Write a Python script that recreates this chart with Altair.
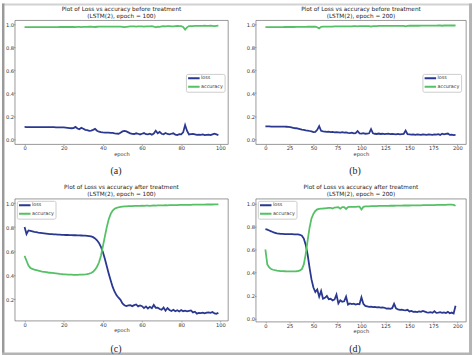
import altair as alt
import pandas as pd

BLUE = "#2a3890"
GREEN = "#55c065"

EPOCHS_100 = list(range(0, 100))
EPOCHS_200 = list(range(0, 200, 2))

A_LOSS = [0.105, 0.104, 0.104, 0.104, 0.104, 0.104, 0.104, 0.104, 0.104, 0.103,
          0.103, 0.103, 0.103, 0.103, 0.103, 0.103, 0.102, 0.102, 0.102, 0.102,
          0.101, 0.100, 0.098, 0.095, 0.094, 0.096, 0.106, 0.092, 0.085, 0.098,
          0.090, 0.080, 0.078, 0.072, 0.074, 0.080, 0.088, 0.072, 0.064, 0.060,
          0.057, 0.056, 0.055, 0.055, 0.054, 0.053, 0.050, 0.048, 0.046, 0.055,
          0.066, 0.070, 0.066, 0.058, 0.050, 0.045, 0.044, 0.050, 0.046, 0.040,
          0.046, 0.052, 0.042, 0.040, 0.046, 0.038, 0.048, 0.072, 0.050, 0.062,
          0.046, 0.042, 0.052, 0.044, 0.040, 0.046, 0.050, 0.038, 0.034, 0.042,
          0.040, 0.058, 0.122, 0.070, 0.040, 0.042, 0.044, 0.040, 0.036, 0.038,
          0.036, 0.040, 0.034, 0.036, 0.038, 0.034, 0.040, 0.046, 0.040, 0.034]
A_ACC = [0.975, 0.976, 0.976, 0.976, 0.976, 0.976, 0.976, 0.976, 0.976, 0.976,
         0.976, 0.976, 0.976, 0.976, 0.976, 0.976, 0.976, 0.976, 0.977, 0.977,
         0.977, 0.977, 0.977, 0.977, 0.977, 0.977, 0.975, 0.978, 0.978, 0.976,
         0.978, 0.978, 0.978, 0.979, 0.979, 0.978, 0.977, 0.979, 0.980, 0.980,
         0.980, 0.980, 0.980, 0.980, 0.980, 0.981, 0.981, 0.981, 0.981, 0.980,
         0.978, 0.976, 0.978, 0.980, 0.982, 0.982, 0.983, 0.981, 0.982, 0.983,
         0.982, 0.981, 0.983, 0.983, 0.982, 0.984, 0.981, 0.974, 0.980, 0.978,
         0.982, 0.984, 0.982, 0.984, 0.984, 0.983, 0.982, 0.985, 0.986, 0.984,
         0.985, 0.978, 0.955, 0.974, 0.985, 0.985, 0.985, 0.986, 0.987, 0.986,
         0.987, 0.986, 0.988, 0.987, 0.987, 0.988, 0.987, 0.985, 0.987, 0.988]

B_LOSS = [0.110, 0.110, 0.110, 0.109, 0.109, 0.109, 0.109, 0.108, 0.108, 0.108, 0.108, 0.107, 0.106,
          0.104, 0.100, 0.096, 0.094, 0.090, 0.086, 0.082, 0.080, 0.076, 0.074, 0.070, 0.066,
          0.060, 0.062, 0.080, 0.112, 0.072, 0.066, 0.064, 0.062, 0.064, 0.060, 0.062, 0.058,
          0.060, 0.058, 0.056, 0.060, 0.056, 0.058, 0.054, 0.052, 0.056, 0.050, 0.052, 0.070, 0.050,
          0.048, 0.052, 0.046, 0.048, 0.050, 0.086, 0.050, 0.046, 0.044, 0.048, 0.044, 0.046, 0.042,
          0.044, 0.046, 0.042, 0.044, 0.042, 0.040, 0.044, 0.040, 0.042, 0.044, 0.074, 0.042,
          0.040, 0.038, 0.040, 0.036, 0.040, 0.038, 0.036, 0.040, 0.038, 0.036, 0.040, 0.038, 0.036,
          0.040, 0.038, 0.042, 0.036, 0.046, 0.040, 0.044, 0.048, 0.036, 0.038, 0.034, 0.036]
B_ACC = [0.975, 0.975, 0.975, 0.976, 0.976, 0.976, 0.976, 0.976, 0.976, 0.976, 0.977, 0.977, 0.977,
         0.977, 0.977, 0.977, 0.978, 0.978, 0.978, 0.978, 0.978, 0.978, 0.979, 0.979, 0.979,
         0.979, 0.980, 0.975, 0.965, 0.978, 0.980, 0.980, 0.981, 0.981, 0.981, 0.981, 0.982,
         0.982, 0.982, 0.982, 0.982, 0.983, 0.983, 0.983, 0.983, 0.983, 0.984, 0.984, 0.982, 0.984,
         0.984, 0.984, 0.984, 0.985, 0.985, 0.980, 0.985, 0.985, 0.985, 0.986, 0.986, 0.986, 0.986,
         0.986, 0.986, 0.987, 0.987, 0.987, 0.987, 0.987, 0.987, 0.987, 0.987, 0.983, 0.987,
         0.988, 0.988, 0.988, 0.988, 0.988, 0.988, 0.989, 0.989, 0.989, 0.989, 0.989, 0.989, 0.989,
         0.989, 0.989, 0.990, 0.990, 0.988, 0.990, 0.990, 0.990, 0.990, 0.990, 0.991, 0.990]

C_LOSS = [0.800, 0.742, 0.772, 0.768, 0.764, 0.760, 0.757, 0.754, 0.752, 0.750,
          0.748, 0.746, 0.744, 0.742, 0.741, 0.740, 0.739, 0.738, 0.737, 0.736,
          0.735, 0.734, 0.734, 0.733, 0.733, 0.732, 0.732, 0.731, 0.731, 0.730,
          0.729, 0.728, 0.727, 0.725, 0.722, 0.716, 0.706, 0.690, 0.668, 0.636,
          0.592, 0.536, 0.474, 0.412, 0.355, 0.302, 0.262, 0.232, 0.212, 0.195,
          0.165, 0.150, 0.142, 0.148, 0.150, 0.142, 0.150, 0.156, 0.140, 0.148,
          0.142, 0.126, 0.140, 0.122, 0.136, 0.124, 0.152, 0.128, 0.130, 0.118,
          0.112, 0.130, 0.104, 0.126, 0.110, 0.102, 0.112, 0.100, 0.108, 0.098,
          0.110, 0.100, 0.104, 0.098, 0.102, 0.106, 0.090, 0.096, 0.080, 0.086,
          0.084, 0.088, 0.082, 0.088, 0.090, 0.086, 0.094, 0.082, 0.078, 0.088]
C_ACC = [0.560, 0.520, 0.480, 0.460, 0.452, 0.446, 0.442, 0.438, 0.434, 0.430,
         0.428, 0.425, 0.422, 0.420, 0.418, 0.416, 0.414, 0.412, 0.410, 0.409,
         0.407, 0.406, 0.405, 0.404, 0.404, 0.403, 0.403, 0.403, 0.404, 0.404,
         0.405, 0.406, 0.408, 0.412, 0.418, 0.428, 0.445, 0.470, 0.505, 0.560,
         0.640, 0.720, 0.800, 0.865, 0.910, 0.938, 0.952, 0.960, 0.965, 0.968,
         0.970, 0.972, 0.973, 0.974, 0.975, 0.975, 0.976, 0.976, 0.977, 0.977,
         0.978, 0.976, 0.978, 0.979, 0.977, 0.979, 0.980, 0.978, 0.980, 0.981,
         0.980, 0.981, 0.982, 0.981, 0.982, 0.983, 0.982, 0.983, 0.983, 0.984,
         0.984, 0.984, 0.985, 0.984, 0.985, 0.985, 0.986, 0.986, 0.986, 0.987,
         0.987, 0.987, 0.987, 0.988, 0.988, 0.988, 0.988, 0.989, 0.989, 0.989]

D_LOSS = [0.776, 0.772, 0.765, 0.758, 0.750, 0.745, 0.740, 0.738, 0.736, 0.735, 0.734, 0.734, 0.733,
          0.733, 0.733, 0.732, 0.732, 0.731, 0.728, 0.720, 0.695, 0.640, 0.555, 0.440, 0.340,
          0.270, 0.230, 0.252, 0.190, 0.240, 0.172, 0.180, 0.196, 0.168, 0.172, 0.158, 0.166,
          0.208, 0.132, 0.158, 0.146, 0.150, 0.190, 0.122, 0.132, 0.126, 0.130, 0.122, 0.128, 0.124,
          0.185, 0.128, 0.110, 0.106, 0.102, 0.104, 0.100, 0.102, 0.098, 0.100, 0.096, 0.098, 0.094,
          0.086, 0.088, 0.084, 0.090, 0.128, 0.088, 0.080, 0.076, 0.078, 0.074, 0.072, 0.076,
          0.062, 0.066, 0.058, 0.060, 0.056, 0.062, 0.058, 0.066, 0.060, 0.054, 0.052, 0.056, 0.050,
          0.064, 0.050, 0.052, 0.056, 0.050, 0.054, 0.048, 0.058, 0.046, 0.052, 0.044, 0.112]
D_ACC = [0.600, 0.470, 0.445, 0.430, 0.424, 0.420, 0.417, 0.415, 0.413, 0.412, 0.411, 0.410, 0.410,
         0.410, 0.410, 0.410, 0.411, 0.413, 0.418, 0.430, 0.470, 0.560, 0.680, 0.790, 0.870,
         0.910, 0.935, 0.948, 0.952, 0.955, 0.956, 0.958, 0.960, 0.962, 0.962, 0.955, 0.964,
         0.966, 0.967, 0.955, 0.968, 0.968, 0.952, 0.969, 0.970, 0.970, 0.971, 0.971, 0.972, 0.972,
         0.948, 0.970, 0.974, 0.975, 0.975, 0.976, 0.976, 0.977, 0.977, 0.978, 0.978, 0.978, 0.979,
         0.979, 0.979, 0.980, 0.980, 0.980, 0.981, 0.981, 0.981, 0.981, 0.982, 0.982, 0.982,
         0.982, 0.983, 0.983, 0.983, 0.984, 0.984, 0.984, 0.985, 0.985, 0.985, 0.986, 0.986, 0.986,
         0.986, 0.987, 0.987, 0.987, 0.988, 0.988, 0.988, 0.989, 0.989, 0.990, 0.988, 0.980]

TITLE_BEFORE = "Plot of Loss vs accuracy before treatment"
TITLE_AFTER = "Plot of Loss vs accuracy after treatment"
SUB_100 = "(LSTM(2), epoch = 100)"
SUB_200 = "(LSTM(2), epoch = 200)"

X_TICKS_100 = [0, 20, 40, 60, 80, 100]
X_TICKS_200 = [0, 25, 50, 75, 100, 125, 150, 175, 200]
Y_TICKS_ALL = [0.0, 0.2, 0.4, 0.6, 0.8, 1.0]
Y_TICKS_C = [0.2, 0.4, 0.6, 0.8, 1.0]

SANS = "DejaVu Sans"
FRAME_GRAY = "#b4b4b4"


def text_layer(txt, x, y, font, size, color="#222"):
    return alt.Chart(pd.DataFrame({"t": [txt]})).mark_text(
        font=font, fontSize=size, color=color, baseline="middle", align="center"
    ).encode(text="t:N", x=alt.value(x), y=alt.value(y))


def panel(epochs, loss, acc, title, sub, tag, w, h, xdom, ydom, xticks, yticks,
          lx, ly, title_y1, title_y2, tag_x, tag_dy, extra=None):
    n = len(epochs)
    df = pd.DataFrame({
        "epoch": epochs + epochs,
        "value": loss + acc,
        "series": ["loss"] * n + ["accuracy"] * n,
    })
    lines = alt.Chart(df).mark_line(strokeWidth=1.8, clip=True).encode(
        x=alt.X("epoch:Q",
                scale=alt.Scale(domain=xdom, nice=False, zero=False),
                axis=alt.Axis(values=xticks, title="epoch", format="d")),
        y=alt.Y("value:Q",
                scale=alt.Scale(domain=ydom, nice=False, zero=False),
                axis=alt.Axis(values=yticks, title=None, format=".1f")),
        color=alt.Color("series:N",
                        scale=alt.Scale(domain=["loss", "accuracy"], range=[BLUE, GREEN]),
                        legend=alt.Legend(orient="none", legendX=lx, legendY=ly, title=None)),
        detail="series:N",
    )
    t1 = text_layer(title, w / 2, title_y1, SANS, 5.8)
    t2 = text_layer(sub, w / 2, title_y2, SANS, 5.8)
    tagc = text_layer(tag, tag_x, h + tag_dy, "Liberation Serif", 10)
    layers = ([] if extra is None else extra) + [lines, t1, t2, tagc]
    return alt.layer(*layers).properties(width=w, height=h)


# picture frame around the whole figure (decoration), placed relative to panel (a)'s plot origin
ORIGIN_X, ORIGIN_Y = 13, 17
FULL_W, FULL_H = 474, 355
frame_src = pd.DataFrame({"k": [0]})
frame_top = alt.Chart(frame_src).mark_rule(color="#d2d2d2", strokeWidth=2).encode(
    x=alt.value(-ORIGIN_X), x2=alt.value(FULL_W - ORIGIN_X), y=alt.value(1 - ORIGIN_Y))
frame_left = alt.Chart(frame_src).mark_rule(color="#9a9a9a", strokeWidth=2.5).encode(
    x=alt.value(1.25 - ORIGIN_X), y=alt.value(-ORIGIN_Y), y2=alt.value(FULL_H - ORIGIN_Y))
frame_right = alt.Chart(frame_src).mark_rule(color=FRAME_GRAY, strokeWidth=3).encode(
    x=alt.value(FULL_W - 1.5 - ORIGIN_X), y=alt.value(-ORIGIN_Y), y2=alt.value(FULL_H - ORIGIN_Y))
frame_bottom = alt.Chart(frame_src).mark_rule(color=FRAME_GRAY, strokeWidth=3).encode(
    x=alt.value(-ORIGIN_X), x2=alt.value(FULL_W - ORIGIN_X), y=alt.value(FULL_H - 1.5 - ORIGIN_Y))

pa = panel(EPOCHS_100, A_LOSS, A_ACC, TITLE_BEFORE, SUB_100, "(a)", 215, 125,
           [-4.95, 103.95], [-0.046, 1.035], X_TICKS_100, Y_TICKS_ALL, 172.5, 54,
           -11.3, -3.9, 102, 27,
           extra=[frame_top, frame_left, frame_right, frame_bottom])
pb = panel(EPOCHS_200, B_LOSS, B_ACC, TITLE_BEFORE, SUB_200, "(b)", 212, 125,
           [-9.95, 208.95], [-0.046, 1.035], X_TICKS_200, Y_TICKS_ALL, 168, 54,
           -11.3, -4.1, 100, 27)
pc = panel(EPOCHS_100, C_LOSS, C_ACC, TITLE_AFTER, SUB_100, "(c)", 215, 123,
           [-4.95, 103.95], [0.02, 1.035], X_TICKS_100, Y_TICKS_C, 2, 2,
           -11.8, -5.0, 102, 28.5)
pd_ = panel(EPOCHS_200, D_LOSS, D_ACC, TITLE_AFTER, SUB_200, "(d)", 212, 124,
            [-9.95, 208.95], [-0.028, 1.04], X_TICKS_200, Y_TICKS_ALL, 2, 2,
            -11.5, -4.7, 100, 27.5)

chart = alt.concat(pa, pb, pc, pd_, columns=2, bounds="flush",
                   spacing={"row": 55, "column": 28}).resolve_scale(
    color="independent"
).resolve_legend(
    color="independent"
).properties(
    padding=0,
    background="white",
).configure_view(
    stroke="#555", strokeWidth=0.6,
).configure_axis(
    labelFont=SANS, labelFontSize=5.2, labelColor="#333",
    tickColor="#444", tickSize=1.1, tickWidth=0.5, labelPadding=0.2,
    domain=False, grid=False,
    titleFont=SANS, titleFontSize=5.2, titleFontWeight="normal", titleColor="#333",
    titlePadding=0.3, labelFlush=False, labelOverlap=False,
).configure_legend(
    labelFont=SANS, labelFontSize=4.9, labelColor="#333",
    symbolType="M-1,0H4.8", symbolStrokeWidth=2, symbolSize=16,
    padding=1.2, rowPadding=1.5, labelOffset=8, clipHeight=6.5,
    strokeColor="#cccccc", fillColor="white", cornerRadius=1.5,
)

chart.save("out.html", embed_options={"renderer": "svg", "actions": False})
